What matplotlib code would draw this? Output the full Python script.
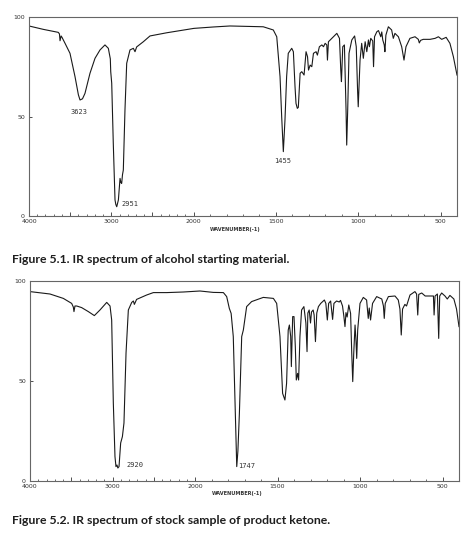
import numpy as np
import matplotlib
matplotlib.use("Agg")
import matplotlib.pyplot as plt
from matplotlib.ticker import FixedLocator, FixedFormatter

# ---- data: IR spectrum of alcohol starting material (wavenumber cm-1, %T) ----
alcohol_wn = [4000, 3826, 3700, 3644, 3630, 3623, 3610, 3599, 3562, 3502, 3441, 3400, 3380, 3350,
              3320, 3259, 3198, 3137, 3077, 3036, 3012, 3007, 2995, 2976, 2955, 2945, 2934, 2925,
              2914, 2894, 2884, 2874, 2864, 2854, 2834, 2813, 2773, 2732, 2712, 2692, 2611, 2530,
              2326, 2150, 1998, 1880, 1779, 1577, 1516, 1495, 1475, 1465, 1455, 1445, 1435, 1425,
              1404, 1394, 1384, 1378, 1370, 1364, 1353, 1343, 1329, 1317, 1308, 1302, 1292, 1282,
              1272, 1256, 1248, 1236, 1221, 1211, 1201, 1191, 1187, 1181, 1160, 1130, 1114, 1106,
              1102, 1094, 1084, 1074, 1070, 1064, 1056, 1039, 1022, 1012, 1004, 1000, 996, 989,
              979, 969, 958, 948, 938, 932, 924, 912, 907, 901, 887, 877, 863, 857, 851, 842, 838,
              832, 817, 797, 787, 777, 756, 736, 722, 710, 686, 655, 635, 629, 621, 605, 564, 533,
              513, 493, 466, 443, 422, 400]
alcohol_T = [95.5, 93.8, 92.8, 92.3, 91.5, 88.1, 90.5, 89.8, 86.8, 81.8, 70.1, 61.0, 58.4, 59.0,
             61.7, 71.8, 79.3, 83.5, 86.0, 84.3, 79.0, 72.6, 66.8, 36.7, 8.3, 6.0, 4.9, 6.5,
             8.3, 19.1, 17.0, 16.6, 21.0, 23.3, 53.4, 76.8, 83.5, 84.3, 82.6, 85.0, 87.6, 90.5,
             92.1, 93.3, 94.3, 95.0, 95.5, 95.1, 93.5, 90.1, 70.1, 50.0, 32.5, 48.4, 70.1, 81.8,
             84.3, 82.6, 65.1, 56.7, 54.2, 54.7, 71.8, 72.6, 70.9, 82.6, 80.1, 73.4, 75.9, 75.1,
             81.8, 82.6, 80.9, 85.1, 86.0, 85.1, 86.8, 86.0, 78.4, 87.6, 89.3, 91.8, 89.3, 73.4,
             67.6, 85.1, 86.0, 53.4, 35.8, 53.4, 81.8, 88.5, 90.5, 85.1, 63.4, 55.0, 63.4, 78.4,
             86.8, 79.3, 87.6, 82.6, 88.5, 85.1, 89.3, 88.0, 75.1, 90.1, 92.6, 93.2, 90.1, 92.5,
             88.5, 86.0, 82.6, 90.9, 95.1, 93.5, 89.3, 91.8, 90.1, 85.1, 78.4, 85.1, 89.3, 90.1,
             88.8, 87.0, 88.3, 88.8, 88.8, 89.3, 90.1, 88.8, 89.8, 86.8, 80.1, 70.9]

# ---- data: IR spectrum of stock sample of product ketone ----
ketone_wn = [4000, 3758, 3596, 3495, 3475, 3467, 3455, 3434, 3374, 3293, 3220, 3152, 3070, 3030,
             3010, 2990, 2970, 2958, 2946, 2935, 2921, 2901, 2880, 2861, 2836, 2808, 2767, 2747,
             2735, 2708, 2586, 2505, 2343, 2141, 1970, 1889, 1828, 1808, 1792, 1781, 1768, 1757,
             1747, 1740, 1731, 1717, 1707, 1687, 1657, 1586, 1525, 1505, 1485, 1469, 1455, 1445,
             1435, 1428, 1420, 1416, 1408, 1400, 1392, 1386, 1378, 1372, 1364, 1354, 1340, 1328,
             1321, 1316, 1308, 1300, 1294, 1284, 1278, 1270, 1262, 1252, 1238, 1226, 1216, 1207,
             1198, 1190, 1178, 1166, 1158, 1142, 1126, 1118, 1106, 1098, 1091, 1085, 1078, 1068,
             1057, 1050, 1044, 1038, 1030, 1024, 1020, 1014, 1000, 980, 960, 950, 944, 936, 924,
             899, 868, 858, 853, 847, 828, 788, 768, 758, 750, 742, 728, 718, 697, 667, 657, 650,
             644, 626, 605, 575, 555, 551, 545, 531, 523, 517, 505, 485, 471, 455, 431, 415, 400]
ketone_T = [94.7, 93.5, 91.3, 88.8, 87.0, 84.7, 87.5, 87.5, 86.7, 84.7, 82.7, 85.5, 89.3, 87.5,
            80.5, 39.0, 12.2, 7.2, 8.0, 6.5, 7.2, 19.0, 22.2, 29.0, 64.0, 85.5, 89.3, 90.0,
            88.3, 90.8, 93.0, 94.2, 94.2, 94.5, 95.0, 94.3, 94.2, 92.2, 86.3, 83.8, 72.2, 39.0,
            7.2, 15.0, 33.8, 72.2, 75.5, 87.2, 89.7, 91.8, 91.3, 88.8, 72.2, 43.8, 40.5, 48.8,
            75.5, 78.0, 72.2, 57.2, 82.2, 82.2, 67.2, 50.5, 53.8, 50.5, 72.2, 85.5, 87.2, 79.0,
            64.7, 84.0, 85.5, 79.0, 84.5, 85.5, 83.0, 69.7, 84.0, 87.2, 88.8, 89.7, 90.5, 88.8,
            80.5, 88.8, 90.0, 80.8, 88.8, 90.0, 89.5, 90.3, 87.5, 82.5, 77.2, 84.2, 82.0, 88.0,
            83.8, 63.8, 49.7, 63.8, 78.0, 69.7, 61.3, 75.5, 88.8, 91.8, 90.5, 81.3, 86.5, 80.5, 88.8,
            92.2, 91.0, 87.5, 81.3, 88.8, 92.2, 92.5, 90.5, 86.0, 73.0, 86.0, 88.3, 87.5, 93.0, 94.7, 93.5, 83.0,
            93.3, 94.0, 92.5, 92.5, 92.5, 83.0, 92.5, 93.5, 71.3, 92.5, 94.0, 92.5, 91.0, 92.8, 91.0, 86.0, 77.2]

# peak labels: (text, wavenumber, %T)
alcohol_peaks = [("3623", 3390, 52.4), ("2951", 2773, 6.3), ("1455", 1457, 27.8)]
ketone_peaks = [("2920", 2733, 8.0), ("1747", 1688, 7.5)]

xtick_major = [4000, 3500, 3000, 2500, 2000, 1500, 1000, 500]
xtick_labels = ["4000", "", "3000", "", "2000", "1500", "1000", "500"]
xtick_minor = list(range(400, 4001, 100))
ytick_vals = [0, 50, 100]
ytick_labels = ["0", "50", "100"]

captions = ["Figure 5.1. IR spectrum of alcohol starting material.",
            "Figure 5.2. IR spectrum of stock sample of product ketone."]
xlabel_text = "WAVENUMBER(-1)"


# piecewise scale: 4000-2000 compressed, 2000-400 expanded twice
def fwd(w):
    w = np.asarray(w, dtype=float)
    return np.where(w >= 2000, w, 2 * w - 2000)


def inv(u):
    u = np.asarray(u, dtype=float)
    return np.where(u >= 2000, u, (u + 2000) / 2)


fig = plt.figure(figsize=(4.74, 5.5), dpi=100)
fig.patch.set_facecolor("white")

W, H = 474.0, 550.0
panels = [
    (29, 457, 17, 216.5, alcohol_wn, alcohol_T, alcohol_peaks),
    (30, 459, 281, 481, ketone_wn, ketone_T, ketone_peaks),
]

for (l, r, t, b, wn, T, peaks) in panels:
    ax = fig.add_axes([l / W, 1 - b / H, (r - l) / W, (b - t) / H])
    ax.set_xscale("function", functions=(fwd, inv))
    ax.plot(wn, T, color="#1a1a1a", lw=0.8)
    ax.set_xlim(4000, 400)
    ax.set_ylim(0, 100)
    ax.xaxis.set_major_locator(FixedLocator(xtick_major))
    ax.xaxis.set_major_formatter(FixedFormatter(xtick_labels))
    ax.xaxis.set_minor_locator(FixedLocator(xtick_minor))
    ax.yaxis.set_major_locator(FixedLocator(ytick_vals))
    ax.yaxis.set_major_formatter(FixedFormatter(ytick_labels))
    ax.tick_params(axis="x", which="major", direction="in", length=3, width=0.6,
                   labelsize=4.5, pad=2, colors="#333333")
    ax.tick_params(axis="x", which="minor", direction="in", length=1.5, width=0.5,
                   colors="#333333")
    ax.tick_params(axis="y", which="major", direction="in", length=2, width=0.6,
                   labelsize=4.5, pad=3, colors="#333333")
    for s in ax.spines.values():
        s.set_color("#666666")
        s.set_linewidth(0.8)
    for txt, x, y in peaks:
        ax.text(x, y, txt, fontsize=5, family="DejaVu Sans Mono", color="#333333",
                ha="center", va="center")
    ax.text(0.482, -0.063, xlabel_text, transform=ax.transAxes, fontsize=3.6,
            ha="center", va="center", color="#333333", fontweight="bold")

fig.text(12 / W, 1 - 260 / H, captions[0], fontsize=8.8, family="Lato",
         fontweight="bold", color="#1e1e1e", ha="left", va="center")
fig.text(12 / W, 1 - 521 / H, captions[1], fontsize=8.8, family="Lato",
         fontweight="bold", color="#1e1e1e", ha="left", va="center")

fig.savefig("out.png", dpi=100, facecolor="white")
